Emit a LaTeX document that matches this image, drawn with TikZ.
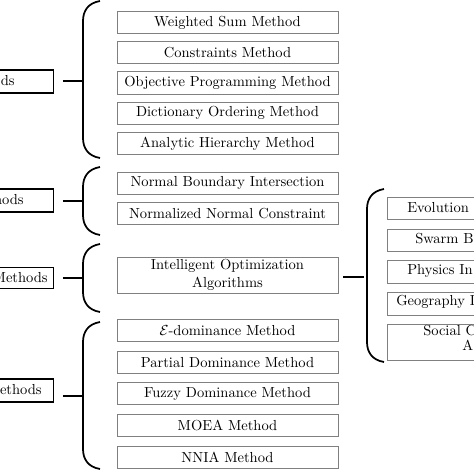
\documentclass[tikz,border=0pt]{standalone}
\usetikzlibrary{positioning,calc}

\tikzset{
  mbox/.style={draw=black!50, line width=0.6pt, minimum width=152pt, minimum height=15.2pt, inner sep=0pt, align=center},
  lbox/.style={draw=black, line width=0.8pt, minimum width=90pt, minimum height=15.8pt, inner sep=0pt, anchor=east},
  rbox/.style={draw=black!50, line width=0.6pt, minimum width=90pt, minimum height=15.2pt, inner sep=0pt, anchor=west},
  tag/.style={inner sep=0pt, text height=1.6ex, text depth=0.25ex},
  brace/.style={draw=black, line width=1.2pt},
}

\begin{document}
\begin{tikzpicture}[x=0.688pt, y=-0.688pt, node distance=5pt]
    \useasboundingbox (0,0) rectangle (474,474);
    \clip (0,0) rectangle (474,474);

    % left column (cut off at the edge)
    \node(l1) [lbox] at (54,81.5)  {};
    \node(l2) [lbox] at (54,200.5) {};
    \node(l3) [lbox, minimum height=14.5pt] at (54,278) {};
    \node(l4) [lbox] at (54,390.5) {};
    \node [tag, anchor=east] at (15,81.5)  {Methods};
    \node [tag, anchor=east] at (24,200.5) {Methods};
    \node [tag, anchor=east] at (48,278)   {Methods};
    \node [tag, anchor=east] at (42,390.5) {Methods};

    % middle column
    \node(m1) [mbox] at (227.5,22.5)   {Weighted Sum Method};
    \node(m2) [mbox, below=of m1]      {Constraints Method};
    \node(m3) [mbox, below=of m2]      {Objective Programming Method};
    \node(m4) [mbox, below=of m3]      {Dictionary Ordering Method};
    \node(m5) [mbox, below=of m4]      {Analytic Hierarchy Method};

    \node(n1) [mbox] at (227.5,183)    {Normal Boundary Intersection};
    \node(n2) [mbox, below=of n1]      {Normalized Normal Constraint};

    \node(ioa) [mbox, minimum height=24.8pt] at (227.5,275) {Intelligent Optimization\\Algorithms};

    \node(d1) [mbox] at (227.5,330.5)  {$\mathcal{E}$-dominance Method};
    \node(d2) [mbox, below=6pt of d1]  {Partial Dominance Method};
    \node(d3) [mbox, below=6pt of d2]  {Fuzzy Dominance Method};
    \node(d4) [mbox, below=6pt of d3]  {MOEA Method};
    \node(d5) [mbox, below=6pt of d4]  {NNIA Method};

    % right column (cut off at the edge)
    \node(r1) [rbox] at (387,208)           {};
    \node(r2) [rbox, below=6.2pt of r1.south west, anchor=north west] {};
    \node(r3) [rbox, below=6.2pt of r2.south west, anchor=north west] {};
    \node(r4) [rbox, below=6.2pt of r3.south west, anchor=north west] {};
    \node(r5) [rbox, minimum height=24.8pt, below=6.2pt of r4.south west, anchor=north west] {};
    \node [tag, anchor=west] at (407,208)   {Evolution};
    \node [tag, anchor=west] at (415,239)   {Swarm B};
    \node [tag, anchor=west] at (407,270)   {Physics In};
    \node [tag, anchor=west] at (396,301)   {Geography I};
    \node [tag, anchor=west] at (423,331.5) {Social C};
    \node [tag, anchor=west] at (462,346)   {A};

    % braces
    \coordinate (t1) at (100,1);   \coordinate (b1) at (100,158); \coordinate (k1) at (83,81);
    \coordinate (t2) at (100,167); \coordinate (b2) at (100,235); \coordinate (k2) at (83,201);
    \coordinate (t3) at (100,244); \coordinate (b3) at (100,312); \coordinate (k3) at (83,278);
    \coordinate (t4) at (100,322); \coordinate (b4) at (100,469); \coordinate (k4) at (83,396);
    \coordinate (tr) at (384,189); \coordinate (br) at (384,362); \coordinate (kr) at (364,277);

    \foreach \g in {1,2,3,4,r} {
      \draw [brace] (t\g) .. controls +(-12,2) and +(0,-10) .. ($(t\g)+(-17,20)$)
        -- ($(b\g)+(-17,-20)$) .. controls +(0,10) and +(-12,-2) .. (b\g);
    }

    \draw [brace] ($(l1.east |- k1)+(9,0)$) -- (k1);
    \draw [brace] ($(l2.east |- k2)+(9,0)$) -- (k2);
    \draw [brace] ($(l3.east |- k3)+(9,0)$) -- (k3);
    \draw [brace] ($(l4.east |- k4)+(9,0)$) -- (k4);
    \draw [brace] ($(ioa.east |- kr)+(5,0)$) -- (kr);

\end{tikzpicture}
\end{document}
